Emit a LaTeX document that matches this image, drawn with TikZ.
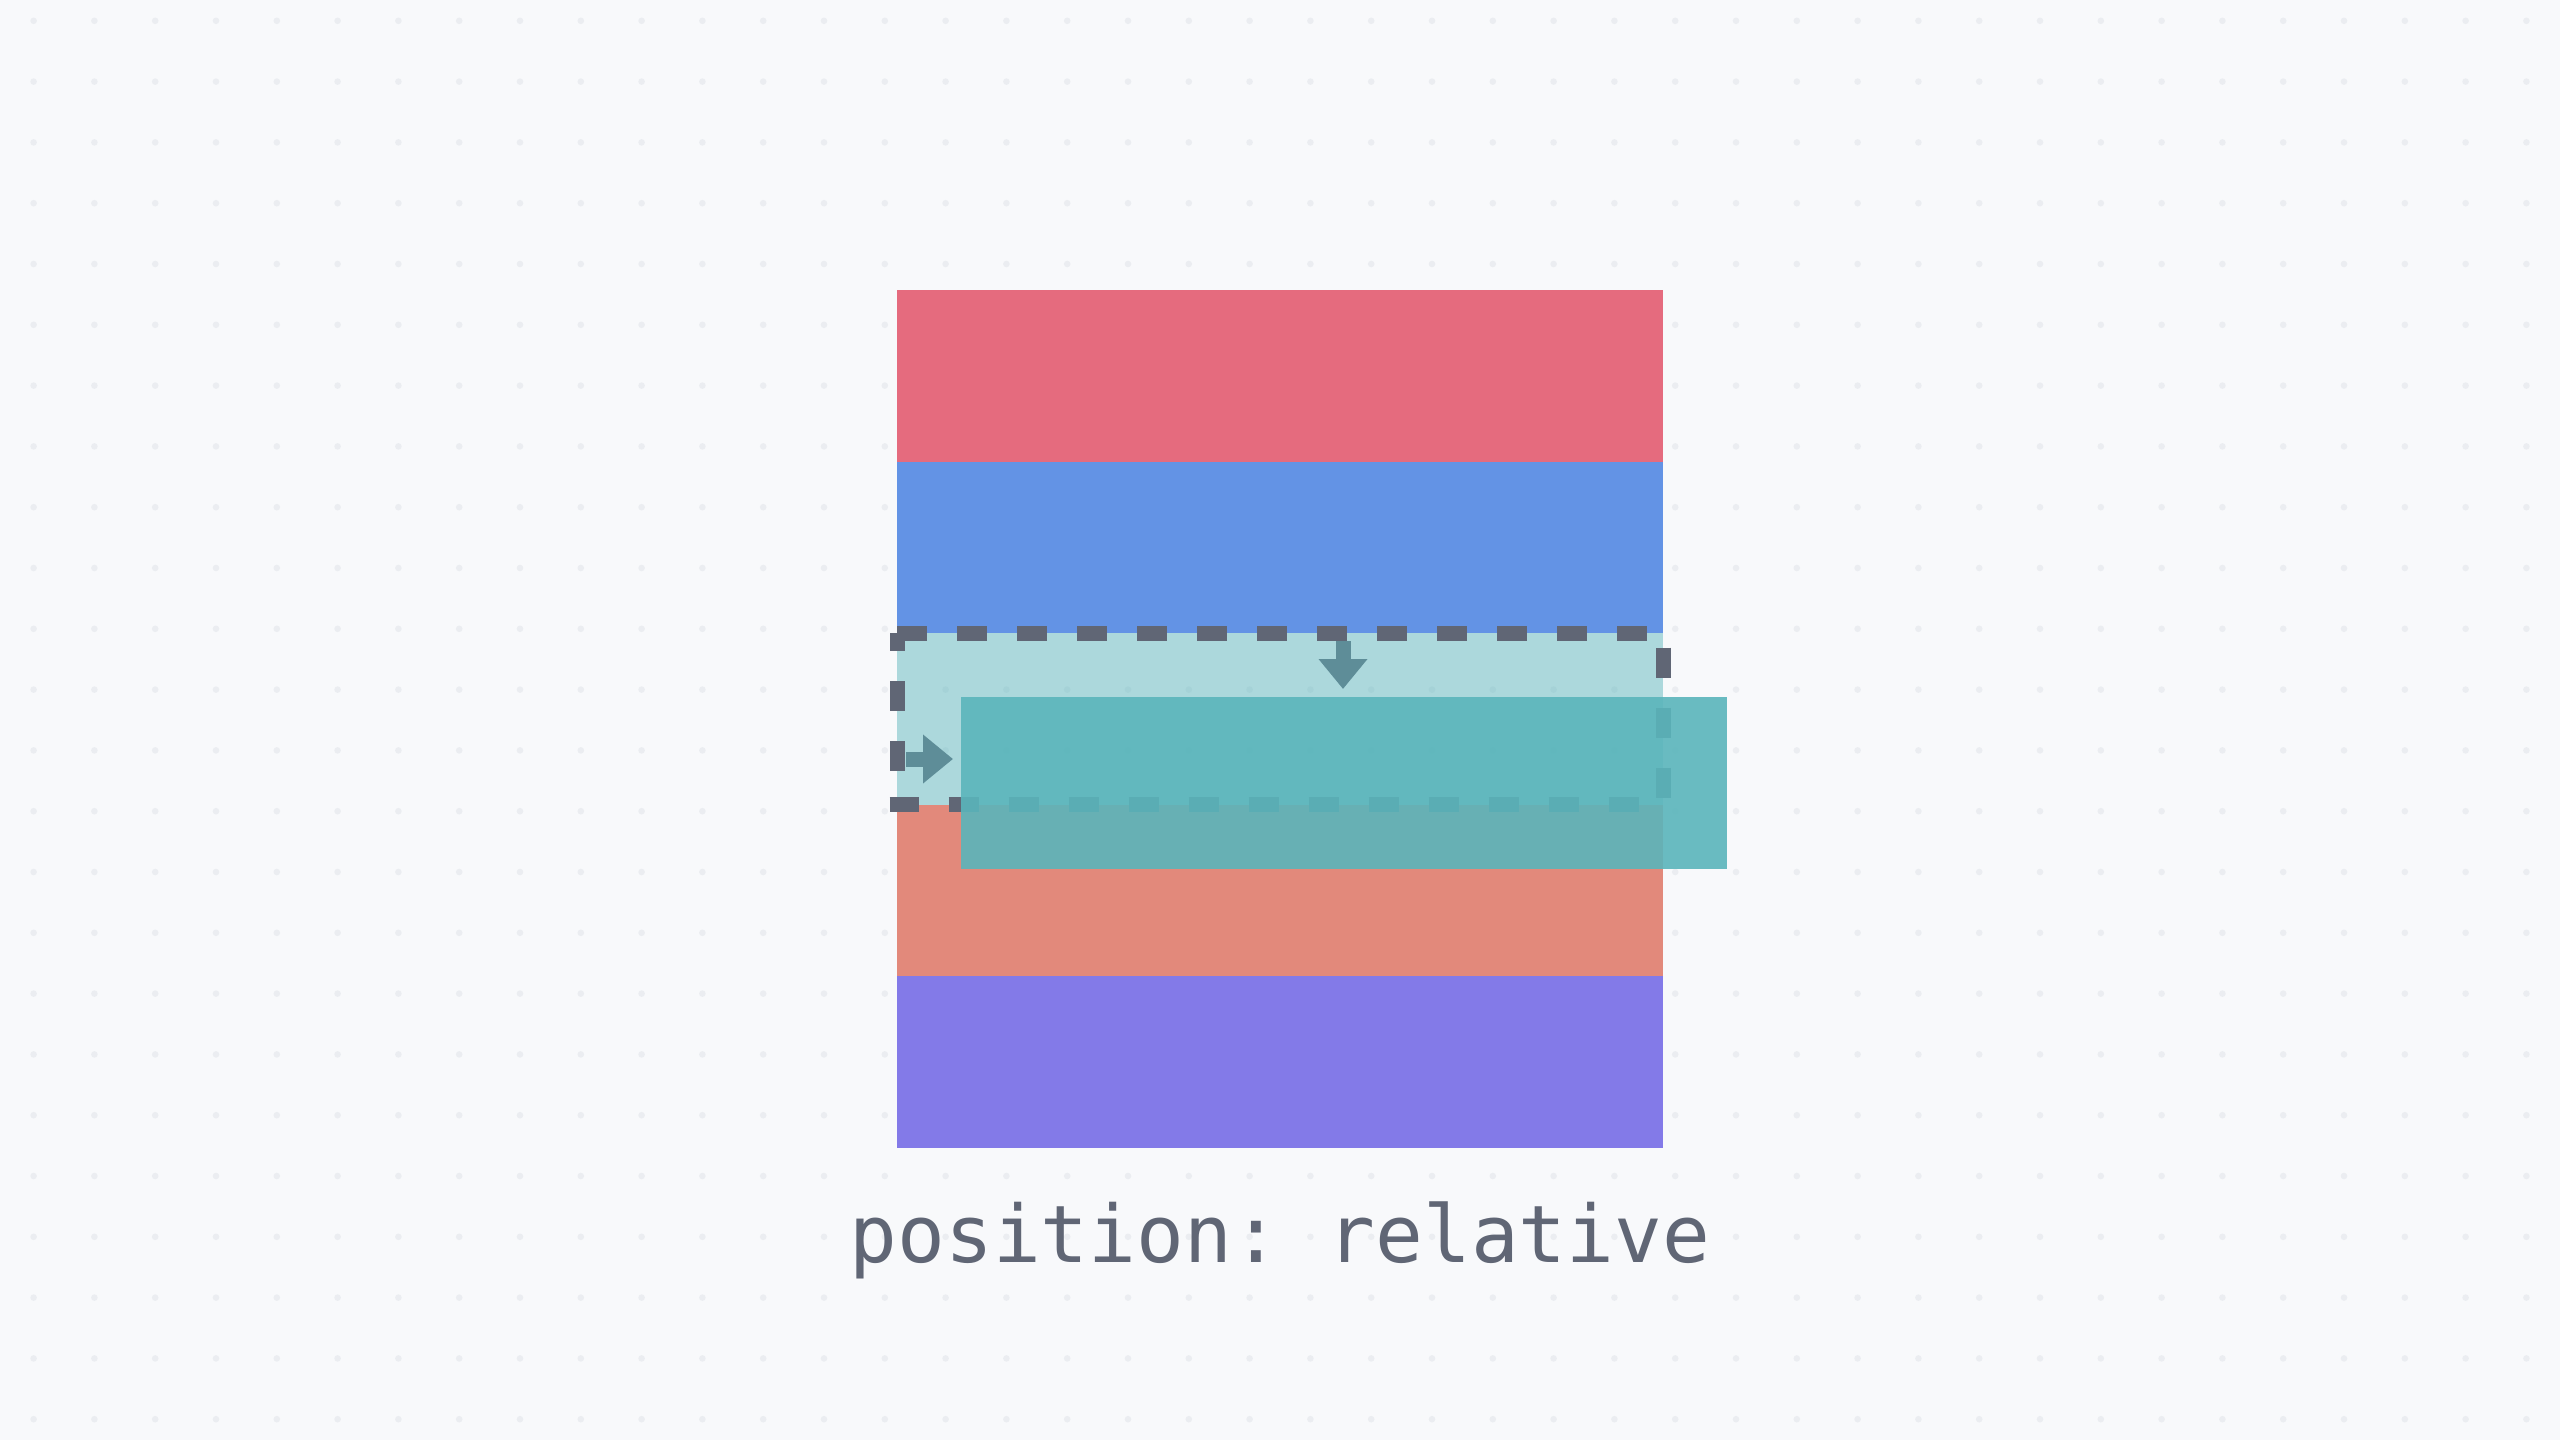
\documentclass[tikz,border=0pt]{standalone}
\usepackage{fontspec}
\setmonofont{DejaVu Sans Mono}
\usepackage{xcolor}
\usepackage{tikz}
\usetikzlibrary{arrows.meta,positioning}

\definecolor{pagebg}{HTML}{F8F9FB}
\definecolor{griddot}{HTML}{EBEDF1}
\definecolor{bandred}{HTML}{E56B7E}
\definecolor{bandblue}{HTML}{6393E5}
\definecolor{boxteal}{HTML}{5AB5BB}
\definecolor{bandsalmon}{HTML}{E2897B}
\definecolor{bandpurple}{HTML}{837AE8}
\definecolor{outlinegray}{HTML}{606675}
\definecolor{shiftarrow}{HTML}{5E8D98}

\begin{document}
\begin{tikzpicture}[x=0.5pt, y=-0.5pt]
            \tikzstyle{band} = [rectangle, minimum width=383pt, minimum height=85.8pt, inner sep=0pt, outer sep=0pt]
            \tikzstyle{ghostline} = [draw=outlinegray, line width=7.5pt, dash pattern=on 15pt off 15pt]
            \tikzstyle{offsetarrow} = [draw=shiftarrow, line width=7.5pt, -{Triangle[length=15pt, width=23.5pt]}]

            % background and dot grid
            \fill [pagebg] (0,0) rectangle (2560,1440);
            \useasboundingbox (0,0) rectangle (2560,1440);
            \foreach \i in {0,...,41}
                \foreach \j in {0,...,23}
                    \fill [griddot] (33.6+60.8*\i, 20.8+60.8*\j) circle (1.65pt);

            % the stacked boxes
            \node [band, fill=bandred, anchor=north] (first) at (1280,290) {};
            \node [band, fill=bandblue, below = 0pt of first] (second) {};
            \node [band, fill=boxteal, fill opacity=0.48, below = 0pt of second] (third) {};
            \node [band, fill=bandsalmon, below = 0pt of third] (fourth) {};
            \node [band, fill=bandpurple, below = 0pt of fourth] (fifth) {};

            % outline of the normal position
            \draw [ghostline] (third.north west) -- (third.north east);
            \draw [ghostline, dash phase=22.75pt] (third.north east) -- (third.south east);
            \draw [ghostline, dash phase=6pt] (third.north west) -- (third.south west);
            \draw [ghostline, dash phase=0.5pt] ([xshift=-3.75pt]third.south west) -- (third.south east);

            % offsets
            \coordinate (downfrom) at ([xshift=31.5pt, yshift=-3.9pt]third.north);
            \coordinate (downto) at ([xshift=31.5pt, yshift=-27.9pt]third.north);
            \coordinate (rightfrom) at ([xshift=4.5pt, yshift=-20pt]third.west);
            \coordinate (rightto) at ([xshift=28pt, yshift=-20pt]third.west);
            \draw [offsetarrow] (downfrom) -- (downto);
            \draw [offsetarrow] (rightfrom) -- (rightto);

            % the shifted box
            \node [band, fill=boxteal, fill opacity=0.9, anchor=north west] (moved) at ([xshift=32pt, yshift=-32pt]third.north west) {};

            \node [anchor=base, text=outlinegray, font=\ttfamily\fontsize{39.7pt}{48pt}\selectfont] (caption) at (1280,1262) {position: relative};
\end{tikzpicture}
\end{document}
